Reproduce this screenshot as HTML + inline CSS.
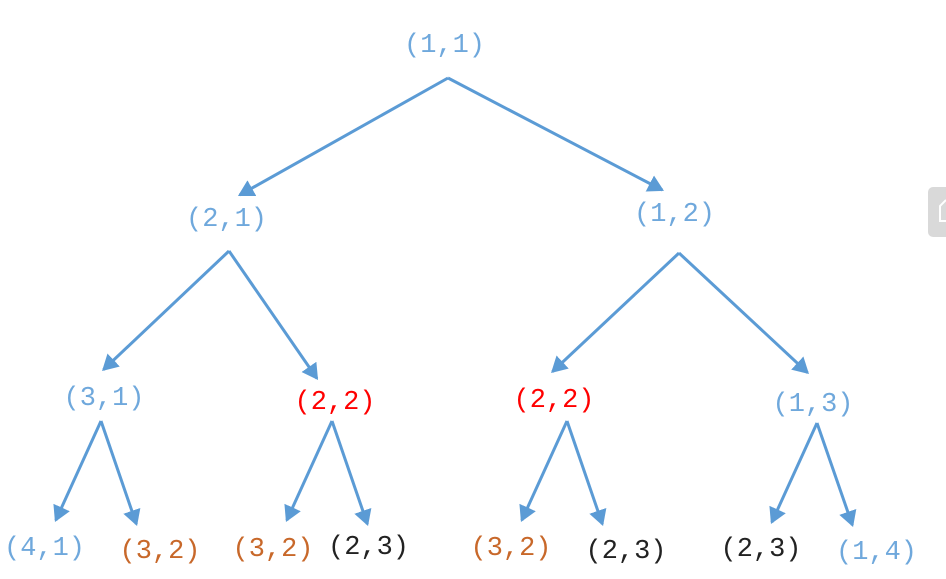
<!DOCTYPE html>
<html>
<head>
<meta charset="utf-8">
<style>
html,body{margin:0;padding:0;background:#fff;width:946px;height:579px;overflow:hidden}
svg{display:block}
text{font-family:"Liberation Mono",monospace;font-size:27px;letter-spacing:0}
.b{fill:#6fa8dc}.r{fill:#ff0000}.o{fill:#c8682a}.k{fill:#222}
line{stroke:#5b9bd5;stroke-width:3}
polygon{fill:#5b9bd5}
</style>
</head>
<body>
<svg width="946" height="579" viewBox="0 0 946 579" xmlns="http://www.w3.org/2000/svg">
<defs>
<marker id="a" markerUnits="userSpaceOnUse" markerWidth="20" markerHeight="20" refX="14" refY="9" orient="auto">
<polygon points="0,0 16,9 0,18"/>
</marker>
</defs>
<line x1="448" y1="78" x2="239.7" y2="195" marker-end="url(#a)"/>
<line x1="448" y1="78" x2="662.2" y2="190" marker-end="url(#a)"/>
<line x1="229" y1="251" x2="103.5" y2="369.6" marker-end="url(#a)"/>
<line x1="229" y1="251" x2="316.9" y2="378.4" marker-end="url(#a)"/>
<line x1="679" y1="253" x2="552.5" y2="371.6" marker-end="url(#a)"/>
<line x1="679" y1="253" x2="807.5" y2="372.6" marker-end="url(#a)"/>
<line x1="101" y1="421" x2="55.8" y2="520.2" marker-end="url(#a)"/>
<line x1="101" y1="421" x2="136.4" y2="524.1" marker-end="url(#a)"/>
<line x1="332" y1="421" x2="286.8" y2="520.2" marker-end="url(#a)"/>
<line x1="332" y1="421" x2="367.4" y2="524.1" marker-end="url(#a)"/>
<line x1="567" y1="421" x2="521.8" y2="520.2" marker-end="url(#a)"/>
<line x1="567" y1="421" x2="602.4" y2="524.1" marker-end="url(#a)"/>
<line x1="817" y1="423" x2="771.8" y2="522.2" marker-end="url(#a)"/>
<line x1="817" y1="423" x2="852.4" y2="525.1" marker-end="url(#a)"/>
<text class="b" x="404" y="52">(1,1)</text>
<text class="b" x="186" y="226">(2,1)</text>
<text class="b" x="634" y="221">(1,2)</text>
<text class="b" x="63.5" y="405">(3,1)</text>
<text class="r" x="294.5" y="409">(2,2)</text>
<text class="r" x="513.5" y="407">(2,2)</text>
<text class="b" x="772.5" y="411">(1,3)</text>
<text class="b" x="4" y="555">(4,1)</text>
<text class="o" x="119.5" y="558">(3,2)</text>
<text class="o" x="232.5" y="556">(3,2)</text>
<text class="k" x="328" y="554">(2,3)</text>
<text class="o" x="470.5" y="555">(3,2)</text>
<text class="k" x="585.5" y="558">(2,3)</text>
<text class="k" x="720.5" y="556">(2,3)</text>
<text class="b" x="836" y="559">(1,4)</text>
<rect x="928" y="187" width="30" height="50" rx="5" fill="#d9d9d9"/>
<path d="M946 200 L940 206 L940 221 L946 221" fill="none" stroke="#fff" stroke-width="2"/>
</svg>
</body>
</html>
